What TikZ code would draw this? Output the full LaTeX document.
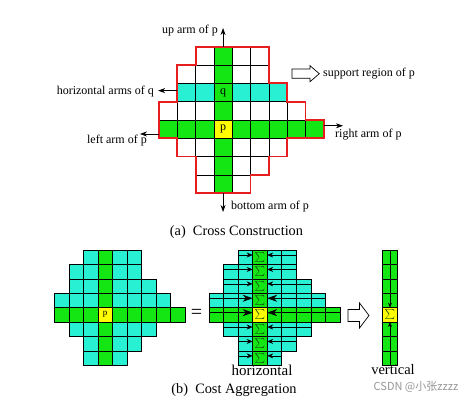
\documentclass[tikz,border=0pt]{standalone}
\usepackage{fontspec}
\setmainfont{Liberation Serif}
\newfontfamily\cjkfont{Noto Sans CJK SC}
\usetikzlibrary{arrows.meta}
\definecolor{grn}{RGB}{20,230,20}
\definecolor{cyn}{RGB}{40,240,210}
\definecolor{yel}{RGB}{255,255,0}
\definecolor{redl}{RGB}{230,30,30}
\definecolor{sumcol}{RGB}{20,70,20}
\definecolor{wmgray}{RGB}{150,150,150}
\newcommand{\pickA}[2]{%
  \def\cellfill{white}%
  \ifnum#2=2 \def\cellfill{cyn}\fi
  \ifnum#1=3 \def\cellfill{grn}\fi
  \ifnum#2=4 \def\cellfill{grn}\fi
  \ifnum#1=3 \ifnum#2=4 \def\cellfill{yel}\fi\fi}
\newcommand{\pickB}[2]{%
  \def\cellfill{cyn}%
  \ifnum#1=3 \def\cellfill{grn}\fi
  \ifnum#2=4 \def\cellfill{grn}\fi
  \ifnum#1=3 \ifnum#2=4 \def\cellfill{yel}\fi\fi}
\begin{document}
\begin{tikzpicture}[x=1pt,y=-1pt,
  gridcell/.style={draw=black, line width=0.6pt},
  lbl/.style={font=\fontsize{12}{14}\selectfont, inner sep=0pt},
  captxt/.style={font=\fontsize{14.3}{16}\selectfont, inner sep=0pt},
  armarrow/.style={draw=black, line width=0.6pt, -{Stealth[length=7pt,width=5pt]}},
  hollowarrow/.style={draw=black, fill=white, line width=0.7pt, line join=miter},
  sumsym/.style={inner sep=0pt, font=\fontsize{11}{11}\selectfont, text=sumcol},
  aggarrow/.style={draw=black, line width=0.6pt, -{Stealth[length=6pt,width=5pt]}},
  aggbig/.style={draw=black, line width=0.6pt, -{Stealth[length=10pt,width=7pt]}},
  vertarrow/.style={draw=black, line width=0.6pt, -{Stealth[length=5pt,width=4pt]}},
]
\useasboundingbox (0,0) rectangle (474,404);

% ---------------- (a) Cross Construction ----------------
\begin{scope}[shift={(159,46.7)}, x=18.3pt, y=-18.3pt]
  \foreach \r/\a/\b in {0/2/5,1/1/5,2/1/6,3/0/7,4/0/8,5/1/6,6/2/5,7/2/4}{
    \foreach \c in {\a,...,\b}{
      \pickA{\c}{\r}
      \draw[gridcell, fill=\cellfill] (\c,\r) rectangle ++(1,1);
    }
  }
  \draw[redl, line width=1.8pt, line join=miter] (2,0) -- (6,0) -- (6,2) -- (7,2) -- (7,3) -- (8,3) -- (8,4) -- (9,4) -- (9,5) -- (7,5) -- (7,6) -- (6,6) -- (6,7) -- (5,7) -- (5,8) -- (2,8) -- (2,6) -- (1,6) -- (1,5) -- (0,5) -- (0,3) -- (1,3) -- (1,1) -- (2,1) -- cycle;
  \node[lbl] (qA) at (3.5,2.5) {q};
  \node[lbl] (pA) at (3.5,4.5) {p};
  \coordinate (upS) at (3.5,0);
  \coordinate (upE) at (3.5,-1.02);
  \coordinate (botS) at (3.5,8);
  \coordinate (botE) at (3.5,9.03);
  \coordinate (lS) at (0,4.77);
  \coordinate (lE) at (-1.04,4.77);
  \coordinate (rS) at (9,4.32);
  \coordinate (rE) at (10.05,4.32);
  \coordinate (qS) at (1,2.4);
  \coordinate (qE) at (-0.05,2.4);
\end{scope}
\draw[armarrow] (upS) -- (upE);
\draw[armarrow] (botS) -- (botE);
\draw[armarrow] (lS) -- (lE);
\draw[armarrow] (rS) -- (rE);
\draw[armarrow] (qS) -- (qE);
\node[lbl, anchor=east] (upL) at (218,30.5) {up arm of p};
\node[lbl, anchor=west] (botL) at (231,207) {bottom arm of p};
\node[lbl, anchor=east] (hqL) at (154,91.7) {horizontal arms of q};
\node[lbl, anchor=east] (leftL) at (147,141) {left arm of p};
\node[lbl, anchor=west] (rightL) at (335,135) {right arm of p};
\node[lbl, anchor=west] (supL) at (323,73.5) {support region of p};
\draw[hollowarrow] (292,69) -- (310,69) -- (310,65.7) -- (319.3,73.7) -- (310,81.7) -- (310,78.3) -- (292,78.3) -- cycle;
\node[captxt] (capA) at (236.5,231.7) {(a)\enspace Cross Construction};

% ---------------- (b) Cost Aggregation ----------------
\begin{scope}[shift={(54.3,250)}, x=14.55pt, y=-14.4pt]
  \foreach \r/\a/\b in {0/2/5,1/1/5,2/1/6,3/0/7,4/0/8,5/1/6,6/2/5,7/2/4}{
    \foreach \c in {\a,...,\b}{
      \pickB{\c}{\r}
      \draw[gridcell, fill=\cellfill] (\c,\r) rectangle ++(1,1);
    }
  }
  \node[inner sep=0pt, font=\fontsize{9}{9}\selectfont] (pB) at (3.5,4.5) {p};
\end{scope}
\node[inner sep=0pt, font=\fontsize{20}{20}\selectfont] (eq) at (196.5,314) {=};

\begin{scope}[shift={(209,250)}, x=14.55pt, y=-14.4pt]
  \foreach \r/\a/\b in {0/2/5,1/1/5,2/1/6,3/0/7,4/0/8,5/1/6,6/2/5,7/2/4}{
    \foreach \c in {\a,...,\b}{
      \pickB{\c}{\r}
      \draw[gridcell, fill=\cellfill] (\c,\r) rectangle ++(1,1);
    }
  }
  \foreach \r/\a/\b in {0/2/5,1/1/5,2/1/6,3/0/7,4/0/8,5/1/6,6/2/5,7/2/4}{
    \coordinate (hl\r) at (\a,\r+0.35);
    \coordinate (hc\r) at (3,\r+0.35);
    \coordinate (hr\r) at (\b+1,\r+0.35);
    \coordinate (hd\r) at (4,\r+0.35);
    \node[sumsym] (s\r) at (3.5,\r+0.5) {$\sum$};
    \ifnum\r=3
      \draw[aggbig] (hl\r) -- (hc\r); \draw[aggbig] (hr\r) -- (hd\r);
    \else\ifnum\r=4
      \draw[aggbig] (hl\r) -- (hc\r); \draw[aggbig] (hr\r) -- (hd\r);
    \else
      \draw[aggarrow] (hl\r) -- (hc\r); \draw[aggarrow] (hr\r) -- (hd\r);
    \fi\fi
  }
\end{scope}
\node[inner sep=0pt, font=\fontsize{15}{16}\selectfont] (horL) at (262,370) {horizontal};

\draw[hollowarrow] (348,309.5) -- (359.5,309.5) -- (359.5,303) -- (369,315.5) -- (359.5,328) -- (359.5,321.5) -- (348,321.5) -- cycle;

\begin{scope}[shift={(382.7,250)}, x=14.55pt, y=-14.4pt]
  \foreach \r in {0,...,7}{
    \def\cellfill{grn}\ifnum\r=4 \def\cellfill{yel}\fi
    \draw[gridcell, fill=\cellfill] (0,\r) rectangle ++(1,1);
  }
  \node[sumsym] (sv) at (0.5,4.5) {$\sum$};
  \coordinate (vt) at (0.5,0);
  \coordinate (vt4) at (0.5,4);
  \coordinate (vb) at (0.5,8);
  \coordinate (vb5) at (0.5,5);
\end{scope}
\draw[vertarrow] (vt) -- (vt4);
\draw[vertarrow] (vb) -- (vb5);
\node[inner sep=0pt, font=\fontsize{14.5}{16}\selectfont] (verL) at (393,370) {vertical};

\node[captxt] (capB) at (234,390) {(b)\enspace Cost Aggregation};
\node[inner sep=0pt, font=\cjkfont\fontsize{11}{12}\selectfont, text=wmgray] (wm) at (416,387) {CSDN @小张zzzz};
\end{tikzpicture}
\end{document}
